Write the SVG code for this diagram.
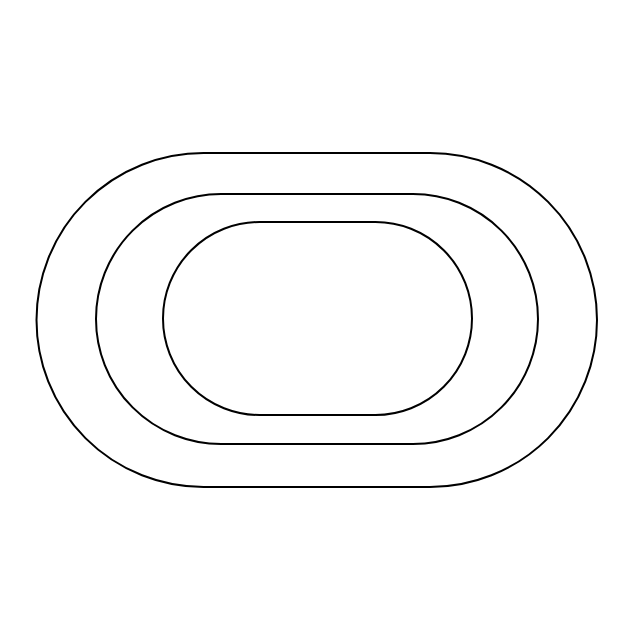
<svg xmlns="http://www.w3.org/2000/svg" width="640" height="640" viewBox="0 0 640 640">
<style>.s{fill:none;stroke:#000;stroke-width:2}</style>
<rect width="640" height="640" fill="#fff"/>
<g id="outer"><rect class="s" x="36.5" y="153" width="560.5" height="334" rx="167" ry="167"/></g>
<g id="middle"><rect class="s" x="96" y="194" width="442" height="250" rx="125" ry="125"/></g>
<g id="inner"><rect class="s" x="163" y="222" width="309" height="193" rx="96.5" ry="96.5"/></g>
</svg>
